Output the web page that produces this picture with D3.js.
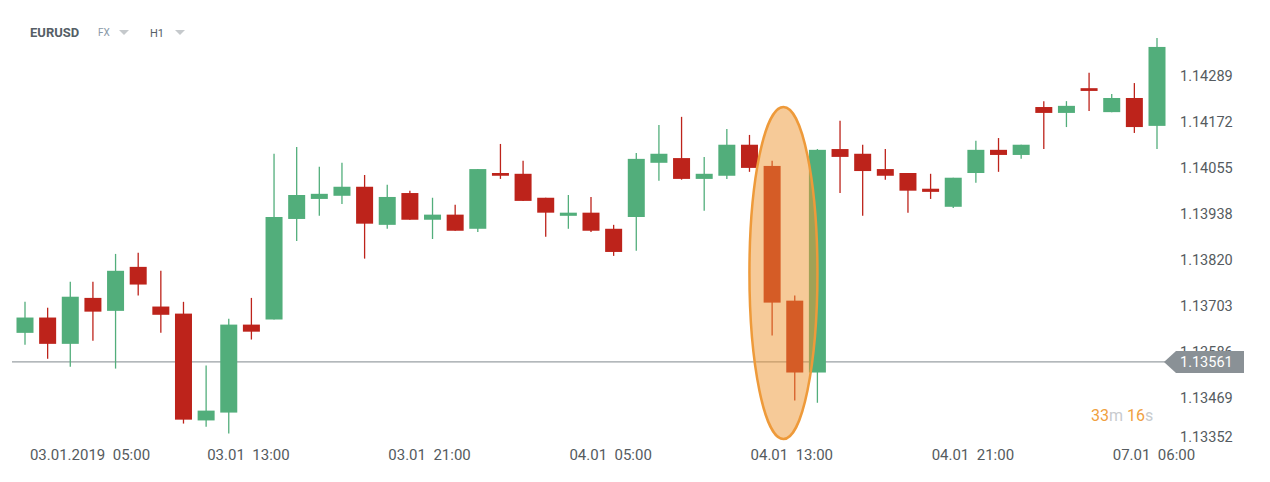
<!DOCTYPE html>
<html><head><meta charset="utf-8">
<script src="https://cdn.jsdelivr.net/npm/d3@7"></script>
<style>body{margin:0;background:#fff}svg{display:block;font-family:Roboto,"Noto Sans",sans-serif}</style>
</head><body><svg id="c" width="1270" height="482"></svg>
<script>
const opens  = [1.13635,1.13674,1.13607,1.13724,1.13691,1.13803,1.13702,1.13684,1.13412,1.13432,1.13656,1.13669,1.13925,1.13976,1.13984,1.14007,1.13910,1.13991,1.13923,1.13936,1.13900,1.14042,1.14040,1.13979,1.13933,1.13941,1.13900,1.13930,1.14068,1.14080,1.14027,1.14035,1.14114,1.14060,1.13717,1.13534,1.14103,1.14091,1.14052,1.14042,1.14002,1.13956,1.14042,1.14101,1.14088,1.14210,1.14195,1.14258,1.14197,1.14233,1.14162];
const highs  = [1.13714,1.13699,1.13765,1.13765,1.13836,1.13839,1.13793,1.13714,1.13552,1.13671,1.13724,1.14091,1.14108,1.14058,1.14068,1.14037,1.14012,1.13997,1.13979,1.13961,1.14052,1.14116,1.14073,1.13979,1.13986,1.13981,1.13910,1.14093,1.14164,1.14185,1.14083,1.14154,1.14139,1.14073,1.13730,1.14103,1.14175,1.14114,1.14103,1.14042,1.14040,1.14030,1.14124,1.14131,1.14114,1.14225,1.14225,1.14297,1.14243,1.14271,1.14386];
const lows   = [1.13605,1.13569,1.13549,1.13615,1.13544,1.13730,1.13635,1.13404,1.13396,1.13379,1.13618,1.13669,1.13869,1.13933,1.13963,1.13824,1.13900,1.13923,1.13874,1.13895,1.13892,1.14027,1.13971,1.13880,1.13900,1.13892,1.13831,1.13844,1.14022,1.14025,1.13946,1.14027,1.14045,1.13628,1.13463,1.13457,1.13991,1.13933,1.14025,1.13941,1.13976,1.13953,1.14017,1.14045,1.14078,1.14103,1.14159,1.14200,1.14197,1.14144,1.14103];
const closes = [1.13674,1.13607,1.13727,1.13689,1.13793,1.13758,1.13681,1.13414,1.13437,1.13656,1.13638,1.13930,1.13986,1.13989,1.14007,1.13913,1.13981,1.13923,1.13936,1.13895,1.14052,1.14035,1.13971,1.13941,1.13941,1.13895,1.13841,1.14078,1.14091,1.14027,1.14040,1.14114,1.14055,1.13712,1.13534,1.14101,1.14083,1.14047,1.14035,1.13997,1.13994,1.14030,1.14101,1.14088,1.14114,1.14195,1.14213,1.14251,1.14233,1.14159,1.14363];
const priceTicks = [1.14289,1.14172,1.14055,1.13938,1.13820,1.13703,1.13586,1.13469,1.13352];
const timeTickIdx = [2,10,18,26,34,42,50];
const timeTickLabels = ["03.01.2019  05:00","03.01  13:00","03.01  21:00","04.01  05:00","04.01  13:00","04.01  21:00","07.01  06:00"];
const lastPrice = 1.13561;
const highlight = [33,34];

const svg = d3.select("#c");
const x = d3.scaleLinear().domain([0,50]).range([25,1157]);
const y = d3.scaleLinear().domain([1.13352,1.14289]).range([444,76]);
const G="#52ae7b", R="#bd231b";
const data = opens.map((o,i)=>({i,o,h:highs[i],l:lows[i],c:closes[i]}));

svg.append("text").attr("x",30).attr("y",37).attr("font-size",13).attr("font-weight","bold").attr("fill","#555e66").text("EURUSD");
svg.append("text").attr("x",98).attr("y",36).attr("font-size",10).attr("fill","#8a9aa8").text("FX");
svg.append("path").attr("d","M119,30h10l-5,5z").attr("fill","#c5c9cc");
svg.append("text").attr("x",150).attr("y",37).attr("font-size",11).attr("fill","#555e66").text("H1");
svg.append("path").attr("d","M175,30h10l-5,5z").attr("fill","#c5c9cc");

svg.append("line").attr("x1",12).attr("x2",1165).attr("y1",y(lastPrice)).attr("y2",y(lastPrice)).attr("stroke","#9aa0a4").attr("stroke-width",1.2);

const g = svg.append("g");
g.selectAll("line.w").data(data).join("line").attr("class","w")
 .attr("x1",d=>x(d.i)).attr("x2",d=>x(d.i)).attr("y1",d=>y(d.h)).attr("y2",d=>y(d.l))
 .attr("stroke",d=>d.c>=d.o?G:R).attr("stroke-width",1.3);
g.selectAll("rect").data(data).join("rect")
 .attr("x",d=>x(d.i)-8.5).attr("width",17)
 .attr("y",d=>y(Math.max(d.o,d.c))).attr("height",d=>Math.max(2,Math.abs(y(d.o)-y(d.c))))
 .attr("fill",d=>d.c>=d.o?G:R);

const hx=(x(highlight[0])+x(highlight[1]))/2;
svg.append("ellipse").attr("cx",hx).attr("cy",273).attr("rx",34).attr("ry",166)
 .attr("fill","rgba(238,150,50,0.5)").attr("stroke","#ee9a3a").attr("stroke-width",2.5);

svg.selectAll("text.pt").data(priceTicks).join("text").attr("class","pt")
 .attr("x",1180).attr("y",d=>Math.min(y(d),437)+5).attr("font-size",14.5).attr("fill","#555b60").text(d=>d.toFixed(5));
const by=y(lastPrice);
svg.append("path").attr("d",`M1164,${by} L1176,${by-11} H1244 V${by+11} H1176 Z`).attr("fill","#8a9196");
svg.append("text").attr("x",1180).attr("y",by+5).attr("font-size",14.5).attr("fill","#fff").text(lastPrice.toFixed(5));

const t = svg.append("text").attr("x",1091).attr("y",421).attr("font-size",16);
t.append("tspan").attr("fill","#f0a040").text("33");
t.append("tspan").attr("fill","#c8cbce").text("m ");
t.append("tspan").attr("fill","#f0a040").text("16");
t.append("tspan").attr("fill","#c8cbce").text("s");

svg.selectAll("text.tt").data(timeTickIdx).join("text").attr("class","tt")
 .attr("x",(d,k)=>k===0?90:x(d)-3).attr("y",460).attr("text-anchor","middle").attr("font-size",15).attr("fill","#555b60")
 .style("white-space","pre").text((d,k)=>timeTickLabels[k]);
</script></body></html>
